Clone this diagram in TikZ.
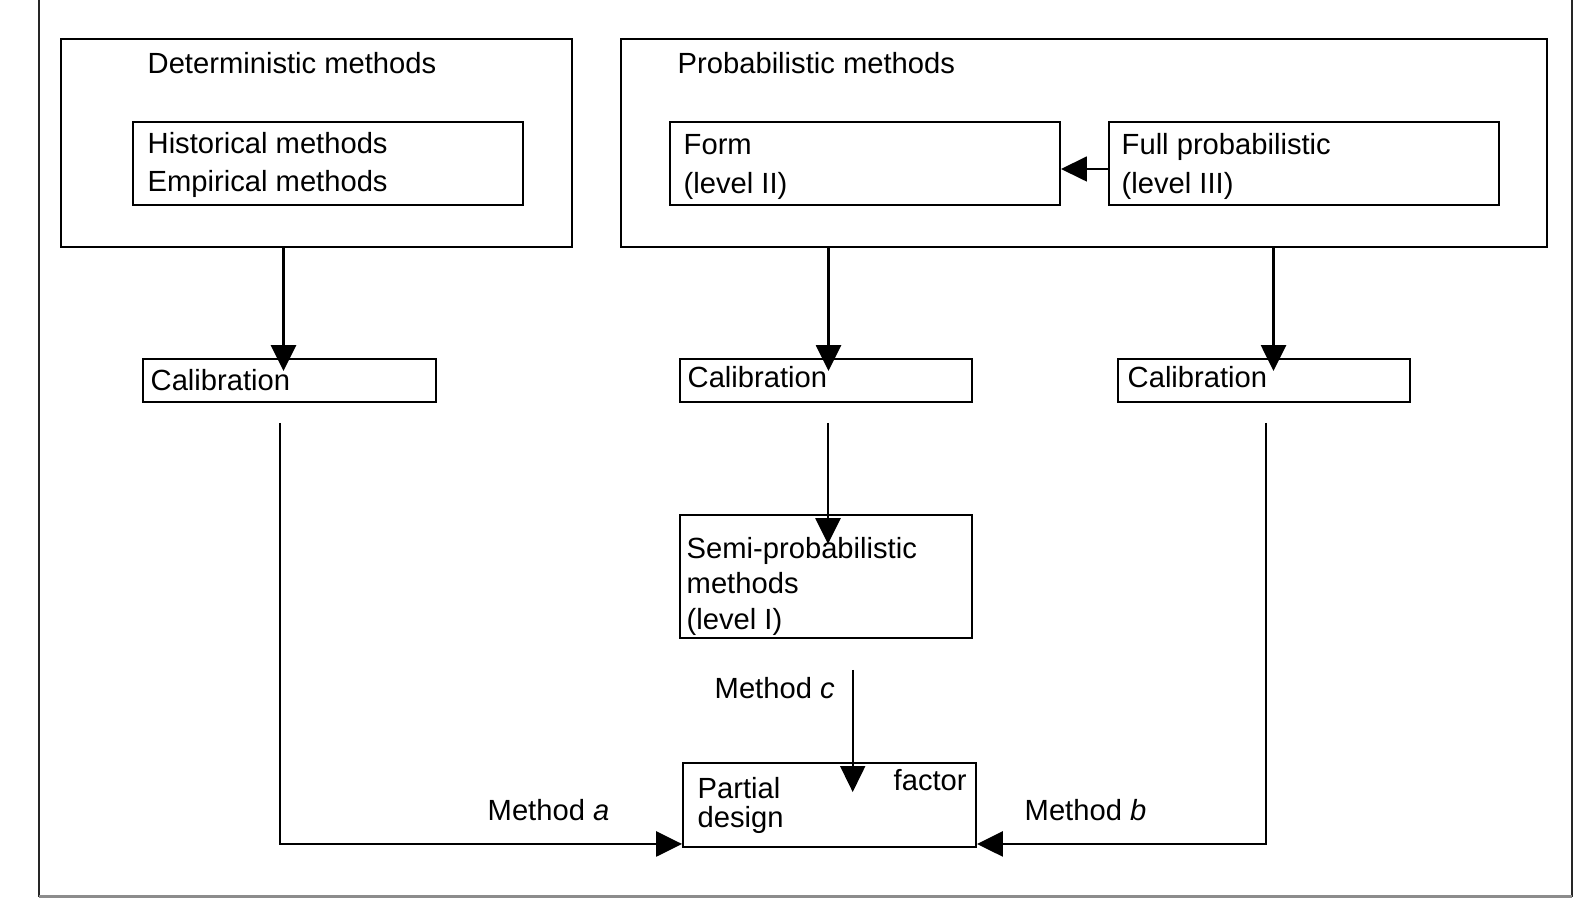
\documentclass[tikz,border=0pt]{standalone}
\usepackage{fontspec}
\setmainfont{Liberation Sans}
\usepackage{tikz}
\usetikzlibrary{arrows.meta,fit}
\usepackage{xcolor}

\begin{document}
\begin{tikzpicture}[x=0.1mm,y=-0.1mm,
	box/.style={draw, line width=0.55pt, inner sep=0pt},
	txt/.style={anchor=base west, inner sep=0pt, font=\fontsize{8.3}{10}\selectfont},
	arr/.style={line width=0.8pt, -{Triangle[length=2.6mm, width=2.5mm]}},
	arrthin/.style={arr, line width=0.5pt}]
	\useasboundingbox (0,0) rectangle (1593,898);
	% frame
	\draw[line width=0.65pt, black!85] (39,0) -- (39,897);
	\draw[line width=0.65pt, black!85] (1572,0) -- (1572,897);
	\draw[line width=0.7pt, black!45] (39,896.5) -- (1572,896.5);
	\foreach 
	\nm/\xa/\ya/\xb/\yb
	in
	{
		det/61/39/572/247,
		prob/621/39/1547/247,
		hist/133/122/523/205,
		form/670/122/1060/205,
		full/1109/122/1499/205,
		calA/143/359/436/402,
		calB/680/359/972/402,
		calC/1118/359/1410/402,
		semi/680/515/972/638,
		part/683/763/976/847
	}
	{
		\node[box, fit={(\xa,\ya) (\xb,\yb)}] (\nm) {};
	}
	\foreach 
	\nm/\x/\y/\t
	in
	{
		detT/147/74/{Deterministic methods},
		probT/677/74/{Probabilistic methods},
		histT/147/154/{Historical methods},
		empT/147/192/{Empirical methods},
		formT/683/155/{Form},
		formL/683/194/{(level II)},
		fullT/1121/155/{Full probabilistic},
		fullL/1121/194/{(level III)},
		calAT/150/391/{Calibration},
		calBT/687/388/{Calibration},
		calCT/1127/388/{Calibration},
		semiT/686/559/{Semi-probabilistic},
		semiM/686/594/{methods},
		semiL/686/630/{(level I)},
		partT/697/798/{Partial},
		partD/697/827/{design},
		factT/893/790/{factor},
		metA/487/820/{Method \textit{a}},
		metB/1024/820/{Method \textit{b}},
		metC/714/699/{Method \textit{c}}
	}
	{
		\node[txt] (\nm) at (\x,\y) {\t};
	}
	\coordinate (a0) at ([xshift=-0.95mm,yshift=-2mm]calA.south);
	\coordinate (b0) at ([xshift=0.2mm,yshift=-2mm]calC.south);
	\coordinate (s0) at ([xshift=0.2mm,yshift=-2mm]calB.south);
	\coordinate (c0) at ([xshift=2.67mm,yshift=-3.1mm]semi.south);
	\draw[arrthin] ([yshift=-0.55mm]full.west) -- ([yshift=-0.55mm]form.east);
	\draw[arr, shorten >=-1.3mm] ([xshift=-0.6mm]calA.north |- det.south) -- ([xshift=-0.6mm]calA.north);
	\draw[arr, shorten >=-1.3mm] ([xshift=0.25mm]calB.north |- prob.south) -- ([xshift=0.25mm]calB.north);
	\draw[arr, shorten >=-1.3mm] ([xshift=0.95mm]calC.north |- prob.south) -- ([xshift=0.95mm]calC.north);
	\draw[arr, shorten >=-3mm] (s0) -- (s0 |- semi.north);
	\draw[arrthin, shorten >=-3mm] (c0) -- (c0 |- part.north);
	\draw[arr] (a0) |- ([yshift=0.4mm]part.south west);
	\draw[arr] (b0) |- ([yshift=0.4mm]part.south east);
\end{tikzpicture}
\end{document}
